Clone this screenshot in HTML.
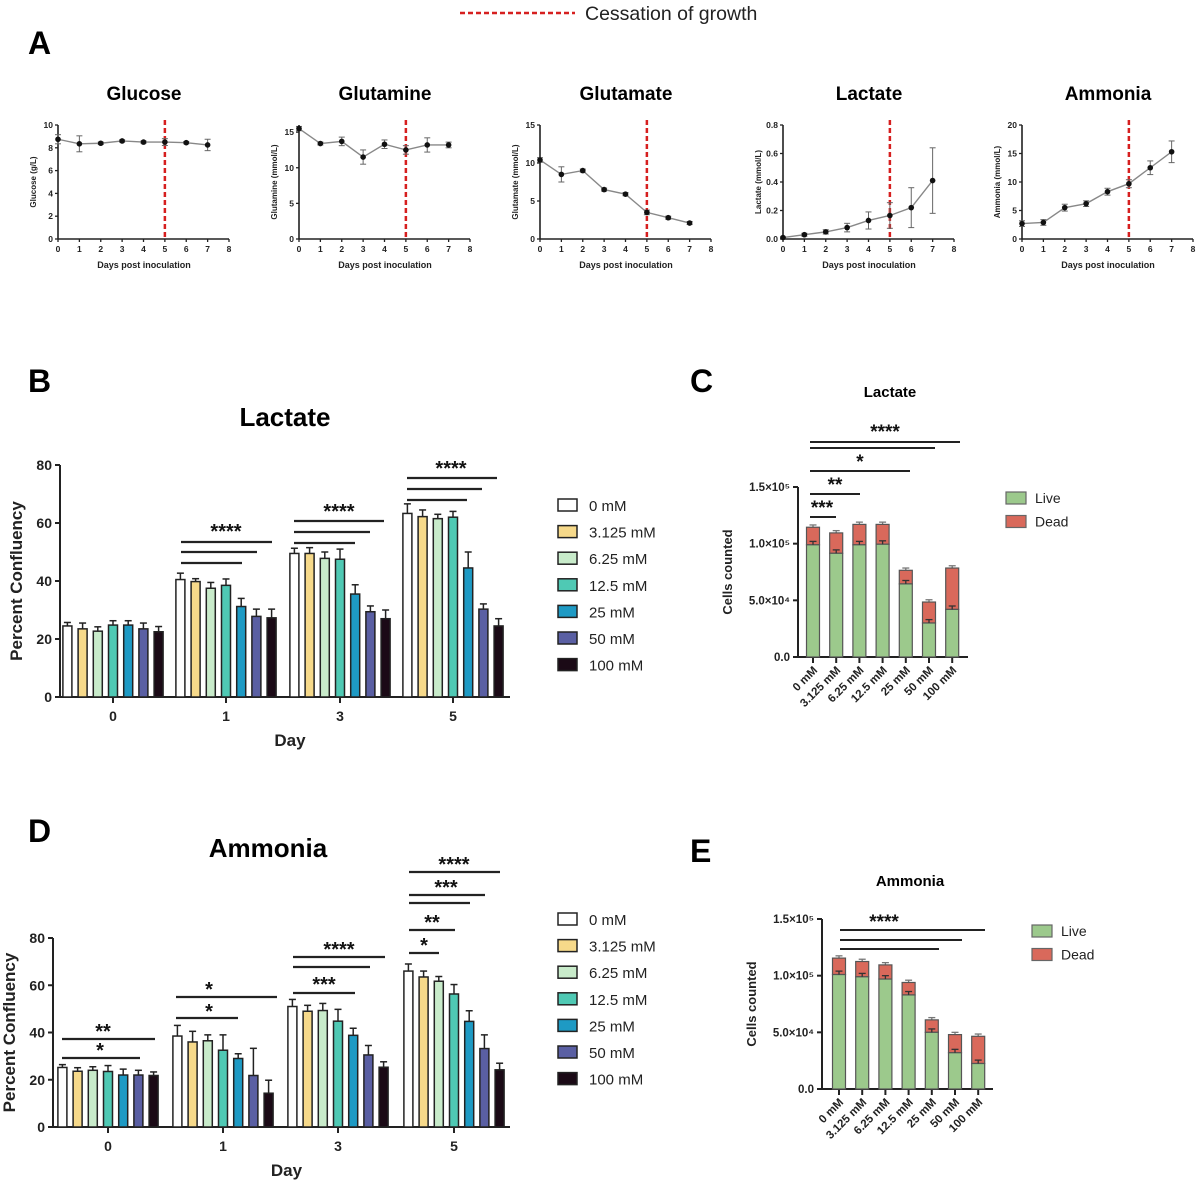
<!DOCTYPE html>
<html><head><meta charset="utf-8">
<style>
html,body{margin:0;padding:0;background:#fff;}
svg{display:block;font-family:"Liberation Sans",sans-serif;}
</style></head>
<body>
<svg id="fig" width="1200" height="1185" viewBox="0 0 1200 1185" xmlns="http://www.w3.org/2000/svg">
<g>
<line x1="460" y1="13" x2="575" y2="13" stroke="#d61f1f" stroke-width="2.5" stroke-dasharray="5,3"/>
<text x="585" y="20" font-size="19.5" fill="#222">Cessation of growth</text>
</g>
<text x="28" y="54" font-size="32" font-weight="bold">A</text>
<text x="28" y="392" font-size="32" font-weight="bold">B</text>
<text x="690" y="392" font-size="32" font-weight="bold">C</text>
<text x="28" y="842" font-size="32" font-weight="bold">D</text>
<text x="690" y="862" font-size="32" font-weight="bold">E</text>
</svg>
<script>
// ---- Panel A data ----
const daysA = [0,1,2,3,4,5,6,7];
const glucoseVals = [8.75,8.35,8.4,8.6,8.5,8.5,8.45,8.25];
const glucoseErr = [0.4,0.7,0.1,0.1,0.1,0.3,0.1,0.5];
const glutamineVals = [15.5,13.4,13.7,11.5,13.3,12.5,13.2,13.2];
const glutamineErr = [0.3,0.2,0.6,1.0,0.6,0.6,1.0,0.4];
const glutamateVals = [10.4,8.5,9.0,6.5,5.9,3.5,2.8,2.1];
const glutamateErr = [0.3,1.0,0.2,0.2,0.2,0.3,0.2,0.2];
const lactateVals = [0.01,0.03,0.05,0.08,0.13,0.165,0.22,0.41];
const lactateErr = [0.005,0.01,0.015,0.03,0.06,0.09,0.14,0.23];
const ammoniaVals = [2.7,2.9,5.5,6.2,8.3,9.7,12.5,15.3];
const ammoniaErr = [0.5,0.5,0.6,0.5,0.6,0.7,1.2,1.9];
const glucoseTicks = ["0","2","4","6","8","10"];
const glutamineTicks = ["0","5","10","15"];
const glutamateTicks = ["0","5","10","15"];
const lactateTicks = ["0.0","0.2","0.4","0.6","0.8"];
const ammoniaTicks = ["0","5","10","15","20"];
const cessationDay = 5;

// ---- Panels B/D data ----
const concLabels = ["0 mM","3.125 mM","6.25 mM","12.5 mM","25 mM","50 mM","100 mM"];
const concColors = ["#ffffff","#f6d98a","#c8ebca","#4fc9b4","#1e9ac4","#5a5fa3","#1b0a16"];
const dayLabels = ["0","1","3","5"];
const confTicks = ["0","20","40","60","80"];
const lactConf = [[24.5,23.5,22.7,24.8,24.8,23.5,22.5],[40.5,39.8,37.5,38.5,31.2,27.8,27.3],[49.5,49.5,47.8,47.5,35.5,29.4,27],[63.3,62.2,61.5,62,44.5,30.3,24.5]];
const lactConfErr = [[1.2,2,1.5,1.5,1.5,2,1.8],[2.2,1,2,2.2,2.8,2.5,3],[1.8,2,2.2,3.5,3.2,2,3],[3.3,2.3,1.5,2,5.5,1.8,2.5]];
const ammConf = [[25.2,23.6,24,23.5,22,22,21.8],[38.5,36,36.5,32.5,29,21.8,14.3],[51,49,49.3,44.8,38.8,30.5,25.3],[66,63.5,61.7,56.3,44.7,33.2,24.2]];
const ammConfErr = [[1.2,1.5,1.5,2.5,2.5,2,1.5],[4.5,4.5,2.5,6.5,2,11.5,5.5],[3,2.5,3,5,3,4,2.3],[3,2.5,2,4,4.5,5.8,2.8]];

// ---- Panels C/E data ----
const cellTicks = ["0.0","5.0×10⁴","1.0×10⁵","1.5×10⁵"];
const lactLive = [99000,91500,99000,99500,64500,30000,42000];
const lactTotal = [114500,109500,117000,117000,76500,48500,78500];
const ammLive = [101000,99000,97000,83000,50000,32000,22500];
const ammTotal = [115500,112500,109500,94000,61000,48000,46500];

const NS="http://www.w3.org/2000/svg";
const svg=document.getElementById('fig');
function mk(tag,attrs,parent){const e=document.createElementNS(NS,tag);for(const k in attrs)e.setAttribute(k,attrs[k]);(parent||svg).appendChild(e);return e;}
function txt(s,attrs,parent){const t=mk('text',attrs,parent);t.textContent=s;return t;}

// ---------- line plots ----------
function linePlot(title,vals,errs,ticks,ymax,ax,ylab){
  const g=mk('g',{});
  
  
  const yT=125,yB=239,xEnd=ax+171;
  const X=d=>ax+d*(xEnd-ax)/8, Y=v=>yB-v/ymax*(yB-yT);
  txt(title,{x:ax+86,y:100,'font-size':19,'font-weight':'bold','text-anchor':'middle'},g);
  mk('line',{x1:ax,y1:yT,x2:ax,y2:yB,stroke:'#222','stroke-width':1.6},g);
  mk('line',{x1:ax,y1:yB,x2:xEnd,y2:yB,stroke:'#222','stroke-width':1.6},g);
  for(let i=0;i<=8;i++){mk('line',{x1:X(i),y1:yB,x2:X(i),y2:yB+3,stroke:'#222','stroke-width':1.3},g);
    txt(String(i),{x:X(i),y:yB+13,'font-size':8.5,'font-weight':'bold','text-anchor':'middle',fill:'#222'},g);}
  ticks.forEach(t=>{const v=parseFloat(t);mk('line',{x1:ax-3,y1:Y(v),x2:ax,y2:Y(v),stroke:'#222','stroke-width':1.3},g);
    txt(t,{x:ax-5,y:Y(v)+3,'font-size':8.5,'font-weight':'bold','text-anchor':'end',fill:'#222'},g);});
  txt('Days post inoculation',{x:ax+86,y:yB+29,'font-size':9,'font-weight':'bold','text-anchor':'middle',fill:'#222'},g);
  txt(ylab,{x:0,y:0,'font-size':8,'font-weight':'bold','text-anchor':'middle',fill:'#222',transform:`translate(${ax-22},${(yT+yB)/2}) rotate(-90)`},g);
  const cl=mk('line',{x1:X(cessationDay),y1:yT-5,x2:X(cessationDay),y2:yB,stroke:'#d61f1f','stroke-width':2.5,'stroke-dasharray':'5,3'},g);
  
  
  const pts=daysA.map((d,i)=>X(d)+','+Y(vals[i])).join(' ');
  mk('polyline',{points:pts,fill:'none',stroke:'#888','stroke-width':1.4},g);
  daysA.forEach((d,i)=>{
    const x=X(d),y1=Y(vals[i]+errs[i]),y2=Y(Math.max(0,vals[i]-errs[i]));
    mk('line',{x1:x,y1:y1,x2:x,y2:y2,stroke:'#666'},g);
    mk('line',{x1:x-3,y1:y1,x2:x+3,y2:y1,stroke:'#666'},g);
    mk('line',{x1:x-3,y1:y2,x2:x+3,y2:y2,stroke:'#666'},g);
    const c=mk('circle',{cx:x,cy:Y(vals[i]),r:2.8,fill:'#111'},g);
    
    
  });
}
linePlot('Glucose',glucoseVals,glucoseErr,glucoseTicks,10,58,'Glucose (g/L)');
linePlot('Glutamine',glutamineVals,glutamineErr,glutamineTicks,16,299,'Glutamine (mmol/L)');
linePlot('Glutamate',glutamateVals,glutamateErr,glutamateTicks,15,540,'Glutamate (mmol/L)');
linePlot('Lactate',lactateVals,lactateErr,lactateTicks,0.8,783,'Lactate (mmol/L)');
linePlot('Ammonia',ammoniaVals,ammoniaErr,ammoniaTicks,20,1022,'Ammonia (mmol/L)');

// ---------- grouped bar charts ----------
function groupChart(name,title,vals,errs,ax,xEnd,yT,yB,centers,titleX,titleY,sig,legY){
  const g=mk('g',{});
  
  
  const Y=v=>yB-v/80*(yB-yT);
  txt(title,{x:titleX,y:titleY,'font-size':26,'font-weight':'bold','text-anchor':'middle'},g);
  mk('line',{x1:ax,y1:yT,x2:ax,y2:yB,stroke:'#222','stroke-width':2},g);
  mk('line',{x1:ax,y1:yB,x2:xEnd,y2:yB,stroke:'#222','stroke-width':2},g);
  confTicks.forEach(t=>{const v=parseFloat(t);mk('line',{x1:ax-5,y1:Y(v),x2:ax,y2:Y(v),stroke:'#222','stroke-width':2},g);
    txt(t,{x:ax-8,y:Y(v)+5,'font-size':14,'font-weight':'bold','text-anchor':'end',fill:'#222'},g);});
  txt('Percent Confluency',{x:0,y:0,'font-size':17,'font-weight':'bold','text-anchor':'middle',fill:'#222',transform:`translate(${ax-38},${(yT+yB)/2}) rotate(-90)`},g);
  txt('Day',{x:(ax+xEnd)/2+5,y:yB+49,'font-size':17,'font-weight':'bold','text-anchor':'middle',fill:'#222'},g);
  dayLabels.forEach((d,gi)=>{
    const cx=centers[gi];
    mk('line',{x1:cx,y1:yB,x2:cx,y2:yB+6,stroke:'#222','stroke-width':2},g);
    txt(d,{x:cx,y:yB+24,'font-size':14,'font-weight':'bold','text-anchor':'middle',fill:'#222'},g);
    vals[gi].forEach((v,i)=>{
      const x=cx+(i-3)*15.2, w=9;
      const top=Y(v+errs[gi][i]);
      mk('line',{x1:x,y1:top,x2:x,y2:Y(v),stroke:'#222','stroke-width':1.5},g);
      mk('line',{x1:x-3.5,y1:top,x2:x+3.5,y2:top,stroke:'#222','stroke-width':1.5},g);
      const r=mk('rect',{x:x-w/2,y:Y(v),width:w,height:yB-Y(v),fill:concColors[i],stroke:'#222','stroke-width':1.5},g);
      
      
    });
  });
  sig.forEach(s=>{
    if(s.type==='line'){mk('line',{x1:s.x1,y1:s.y,x2:s.x2,y2:s.y,stroke:'#222','stroke-width':2.2},g);}
    else{txt(s.t,{x:s.x,y:s.y+8,'font-size':20,'font-weight':'bold','text-anchor':'middle',fill:'#111'},g);}
  });
  concLabels.forEach((c,i)=>{
    const y=legY+i*26.6;
    const lg=mk('g',{},g);
    
    
    mk('rect',{x:558,y:y-6,width:19,height:12,fill:concColors[i],stroke:'#222','stroke-width':1.5},lg);
    txt(c,{x:589,y:y+6,'font-size':15,fill:'#222'},lg);
  });
}
const L=(x1,x2,y)=>({type:'line',x1,x2,y}), S=(t,x,y)=>({type:'star',t,x,y});
groupChart('lactate-confluency-chart','Lactate',lactConf,lactConfErr,60,510,465,697,[113,226,340,453],285,426,
 [S('****',226,530),L(181,272,542),L(181,257,552),L(181,242,563),
  S('****',339,510),L(294,384,521),L(294,370,532),L(294,355,543),
  S('****',451,467),L(407,497,478),L(407,482,489),L(407,467,500)],505);
groupChart('ammonia-confluency-chart','Ammonia',ammConf,ammConfErr,53,510,938,1127,[108,223,338,454],268,857,
 [S('**',103,1030),L(62,155,1039),S('*',100,1049),L(62,140,1058),
  S('*',209,988),L(176,277,997),S('*',209,1010),L(176,238,1018),
  S('****',339,948),L(293,385,957),L(293,370,967),S('***',324,983),L(293,355,993),
  S('****',454,863),L(409,500,872),S('***',446,886),L(409,485,895),L(409,470,903),S('**',432,921),L(409,455,930),S('*',424,944),L(409,439,953)],919);

// ---------- stacked bar charts ----------
function stackChart(name,title,live,total,ax,xEnd,yT,yB,x0,dx,titleX,titleY,sig,legX,legY){
  const g=mk('g',{});
  
  
  const Y=v=>yB-v/150000*(yB-yT);
  txt(title,{x:titleX,y:titleY,'font-size':15,'font-weight':'bold','text-anchor':'middle'},g);
  mk('line',{x1:ax,y1:yT,x2:ax,y2:yB,stroke:'#222','stroke-width':2},g);
  mk('line',{x1:ax,y1:yB,x2:xEnd,y2:yB,stroke:'#222','stroke-width':2},g);
  cellTicks.forEach((t,i)=>{const v=i*50000;mk('line',{x1:ax-5,y1:Y(v),x2:ax,y2:Y(v),stroke:'#222','stroke-width':2},g);
    txt(t,{x:ax-8,y:Y(v)+4,'font-size':11.5,'font-weight':'bold','text-anchor':'end',fill:'#222'},g);});
  txt('Cells counted',{x:0,y:0,'font-size':13,'font-weight':'bold','text-anchor':'middle',fill:'#222',transform:`translate(${ax-66},${(yT+yB)/2}) rotate(-90)`},g);
  concLabels.forEach((c,i)=>{
    const x=x0+i*dx,w=13;
    mk('line',{x1:x,y1:yB,x2:x,y2:yB+6,stroke:'#222','stroke-width':2},g);
    txt(c,{x:0,y:0,'font-size':11.5,'font-weight':'bold','text-anchor':'end',fill:'#222',transform:`translate(${x+5},${yB+14}) rotate(-45)`},g);
    const tE=Y(total[i]+2000);
    mk('line',{x1:x,y1:tE,x2:x,y2:Y(total[i]),stroke:'#777','stroke-width':1.3},g);
    mk('line',{x1:x-3.5,y1:tE,x2:x+3.5,y2:tE,stroke:'#777','stroke-width':1.3},g);
    const d=mk('rect',{x:x-w/2,y:Y(total[i]),width:w,height:Y(live[i])-Y(total[i]),fill:'#d9695b',stroke:'#555','stroke-width':1.2},g);
    
    
    const l=mk('rect',{x:x-w/2,y:Y(live[i]),width:w,height:yB-Y(live[i]),fill:'#9cc98c',stroke:'#555','stroke-width':1.2},g);
    
    
    const lE=Y(live[i]+3000);
    mk('line',{x1:x,y1:lE,x2:x,y2:Y(live[i]),stroke:'#333','stroke-width':1.3},g);
    mk('line',{x1:x-3.5,y1:lE,x2:x+3.5,y2:lE,stroke:'#333','stroke-width':1.3},g);
  });
  sig.forEach(s=>{
    if(s.type==='line'){mk('line',{x1:s.x1,y1:s.y,x2:s.x2,y2:s.y,stroke:'#222','stroke-width':2},g);}
    else{txt(s.t,{x:s.x,y:s.y+8,'font-size':19,'font-weight':'bold','text-anchor':'middle',fill:'#111'},g);}
  });
  [['Live','#9cc98c'],['Dead','#d9695b']].forEach((e,i)=>{
    const lg=mk('g',{},g);
    
    
    mk('rect',{x:legX,y:legY+i*23.5-6,width:20,height:12,fill:e[1],stroke:'#666','stroke-width':1.2},lg);
    txt(e[0],{x:legX+29,y:legY+i*23.5+5,'font-size':14,fill:'#222'},lg);
  });
}
stackChart('lactate-cells-chart','Lactate',lactLive,lactTotal,798,968,487,657,813,23.2,890,397,
 [S('****',885,430),L(810,960,442),L(810,935,448),S('*',860,460),L(810,910,471),S('**',835,483),L(810,860,494),S('***',822,506),L(810,836,517)],1006,498);
stackChart('ammonia-cells-chart','Ammonia',ammLive,ammTotal,822,993,919,1089,839,23.2,910,886,
 [S('****',884,920),L(840,985,930),L(840,962,940),L(840,939,949)],1032,931);
</script>
</body></html>
